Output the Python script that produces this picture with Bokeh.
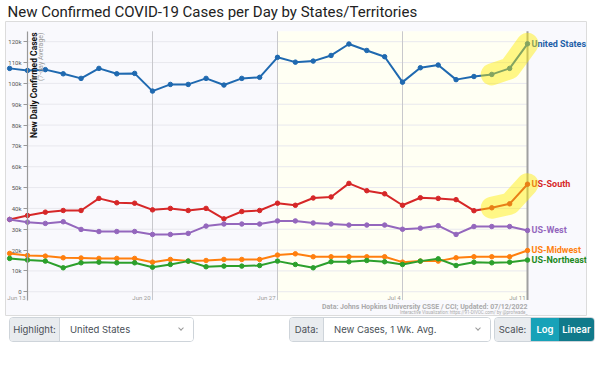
import math
import pandas as pd
from bokeh.plotting import figure
from bokeh.models import Range1d, FixedTicker, BoxAnnotation, Label, Div
from bokeh.layouts import column
from bokeh.embed import file_html
from bokeh.resources import INLINE
from bokeh.core.properties import value

# ---------------- data ----------------
dates = pd.date_range("2022-06-12", "2022-07-11", freq="D")

us = [107.2, 106.2, 106.6, 104.6, 102.4, 107.2, 104.6, 104.8, 96.3, 99.5,
      99.5, 102.4, 99.2, 102.4, 102.9, 112.5, 110.2, 110.7, 113.4, 118.9,
      115.8, 112.8, 100.6, 107.5, 108.8, 101.8, 103.3, 104.3, 107.2, 119.0]
south = [34.7, 36.6, 38.2, 39.0, 39.0, 44.8, 42.7, 42.5, 39.3, 40.0,
         39.0, 40.0, 35.0, 38.5, 39.0, 42.5, 41.5, 45.0, 45.5, 52.0,
         48.5, 47.0, 41.5, 45.1, 44.8, 44.2, 38.9, 40.3, 42.2, 51.6]
west = [34.7, 33.4, 32.8, 33.6, 29.9, 28.9, 28.9, 28.9, 27.5, 27.5,
        28.0, 31.5, 32.5, 32.5, 32.5, 34.0, 34.0, 33.0, 32.5, 32.0,
        32.0, 32.0, 30.0, 30.5, 31.7, 27.5, 31.3, 31.3, 31.3, 29.4]
midwest = [18.4, 17.4, 17.1, 16.3, 16.2, 16.0, 16.0, 16.0, 14.2, 15.5,
           14.7, 15.0, 15.5, 15.5, 15.5, 17.6, 18.2, 16.8, 16.8, 16.8,
           16.8, 16.8, 14.2, 14.7, 14.7, 16.3, 16.8, 16.8, 16.8, 19.8]
northeast = [16.0, 15.2, 14.7, 11.5, 13.9, 14.2, 13.9, 13.9, 11.8, 13.1,
             14.7, 12.0, 12.3, 12.3, 12.6, 14.7, 13.1, 11.5, 14.4, 14.4,
             15.0, 14.4, 13.1, 14.7, 15.8, 12.6, 14.2, 13.9, 14.2, 15.2]

series_names = ["United States", "US-South", "US-West", "US-Midwest", "US-Northeast"]
series_values = [us, south, west, midwest, northeast]
series_colors = ["#1f69b0", "#d62728", "#9467bd", "#ff7f0e", "#2ca02c"]
label_colors = ["#1f5fa8", "#d62728", "#9467bd", "#ff7f0e", "#1e8a1e"]
highlighted = ["United States", "US-South"]

y_ticks = [0, 10000, 20000, 30000, 40000, 50000, 60000, 70000, 80000, 90000, 100000, 110000, 120000]
y_tick_labels = ["0", "10k", "20k", "30k", "40k", "50k", "60k", "70k", "80k", "90k", "100k", "110k", "120k"]
x_ticks = pd.to_datetime(["2022-06-13", "2022-06-20", "2022-06-27", "2022-07-04", "2022-07-11"])
x_tick_labels = ["Jun 13", "Jun 20", "Jun 27", "Jul 4", "Jul 11"]

# ---------------- figure ----------------
day = pd.Timedelta(days=1)
x_start = x_ticks[0] - 1.232 * day
x_end = x_ticks[-1] + 3.304 * day

p = figure(frame_width=581, frame_height=294, x_axis_type="datetime",
           x_range=Range1d(x_start, x_end), y_range=Range1d(-11400, 129700),
           output_backend="svg", toolbar_location=None, x_axis_location=None,
           min_border_left=5, min_border_right=14, min_border_top=0, min_border_bottom=2,
           title="New Confirmed COVID-19 Cases per Day by States/Territories")
p.title.text_font = "Roboto"
p.title.text_font_size = "15px"
p.title.text_font_style = "normal"
p.title.text_color = "#222222"
p.title.standoff = 1
p.title.offset = 2

p.background_fill_color = "#f9f9fd"
p.border_fill_color = "white"
p.outline_line_color = "#dcdcdc"
p.xgrid.grid_line_color = None
p.ygrid.grid_line_color = None

# shaded recent period
p.add_layout(BoxAnnotation(left=x_ticks[2], right=x_ticks[-1], bottom=-4000, top=125000,
                           fill_color="#fffff3", fill_alpha=1.0, line_color=None, level="underlay"))

# horizontal grid lines
p.segment(x0=[x_ticks[0]] * len(y_ticks), x1=[x_ticks[-1]] * len(y_ticks), y0=y_ticks, y1=y_ticks,
          line_color="#e8e8ee", line_width=1)
# weekly vertical lines
p.segment(x0=list(x_ticks[1:-1]), x1=list(x_ticks[1:-1]), y0=[-4000] * 3, y1=[125000] * 3,
          line_color="#c8c8cc", line_width=1)
p.segment(x0=[x_ticks[-1]], x1=[x_ticks[-1]], y0=[-4000], y1=[125000],
          line_color="#a0a0a0", line_width=2)

# y axis placed at Jun 13
yax = p.yaxis[0]
yax.fixed_location = x_ticks[0].value / 1e6
yax.ticker = FixedTicker(ticks=y_ticks)
yax.major_label_overrides = {t: l for t, l in zip(y_ticks, y_tick_labels)}
yax.bounds = (-4000, 125000)
yax.axis_line_color = "#999999"
yax.axis_line_width = 1.2
yax.major_tick_line_color = "#999999"
yax.major_tick_out = 4
yax.major_tick_in = 0
yax.minor_tick_line_color = None
yax.major_label_text_font = "Roboto"
yax.major_label_text_font_size = "6px"
yax.major_label_text_color = "#555555"
yax.major_label_standoff = 2

# x tick labels
p.text(x=list(x_ticks), y=[0] * len(x_ticks), text=x_tick_labels, text_align="right",
       text_baseline="top", x_offset=-2, y_offset=2, text_font=value("Roboto"),
       text_font_size="6px", text_color="#999999")

# axis title
p.add_layout(Label(x=x_ticks[0].value / 1e6, y=283, y_units="screen", x_offset=6.5,
                   text="New Daily Confirmed Cases", angle=math.pi / 2, text_align="right",
                   text_baseline="middle", text_font="Roboto", text_font_size="8.5px",
                   text_font_style="bold", text_color="#111111"))
p.add_layout(Label(x=x_ticks[0].value / 1e6, y=283, y_units="screen", x_offset=13,
                   text="(7-day Average)", angle=math.pi / 2, text_align="right",
                   text_baseline="middle", text_font="Roboto", text_font_size="7px",
                   text_color="#999999"))

# series
for name, vals, col, lcol in zip(series_names, series_values, series_colors, label_colors):
    yv = [v * 1000 for v in vals]
    p.line(dates, yv, line_color=col, line_width=2)
    p.scatter(dates, yv, size=4.5, fill_color=col, line_color=col)
    p.text(x=[dates[-1]], y=[yv[-1]], text=[name], x_offset=4, text_baseline="middle",
           text_font=value("Roboto"), text_font_size="9px", text_font_style="bold",
           text_color=lcol)

# highlight of latest days
for name, vals in zip(series_names, series_values):
    if name in highlighted:
        yv = [v * 1000 for v in vals[-3:]]
        p.line(dates[-3:], yv, line_color="#ffee00", line_alpha=0.45, line_width=22,
               line_cap="round", line_join="round")

# source notes
p.add_layout(Label(x=x_ticks[-1].value / 1e6, y=9, y_units="screen",
                   text="Data: Johns Hopkins University CSSE / CCI; Updated: 07/12/2022",
                   text_align="right", text_baseline="middle", text_font="Roboto",
                   text_font_size="7px", text_font_style="bold", text_color="#aaaaaa"))
p.add_layout(Label(x=x_ticks[-1].value / 1e6, y=3.5, y_units="screen",
                   text="Interactive Visualization: https://91-DIVOC.com/ by @profwade_",
                   text_align="right", text_baseline="middle", text_font="Roboto",
                   text_font_size="4.5px", text_color="#aaaaaa"))

# ---------------- controls ----------------
chev = ('<span style="position:absolute;right:10px;top:8px;width:4px;height:4px;'
        'border-right:1px solid #999;border-bottom:1px solid #999;transform:rotate(45deg);"></span>')
grp = ('position:absolute;top:0;height:25px;border:1px solid #ced4da;border-radius:4px;'
       'display:flex;overflow:hidden;box-sizing:border-box;')
lab = ('background:#e9ecef;border-right:1px solid #ced4da;display:flex;align-items:center;'
       'justify-content:center;')
sel = 'flex:1;background:#fff;display:flex;align-items:center;padding-left:10px;position:relative;'
html = f'''
<div style="position:relative;width:600px;height:26px;font-family:Inter,'Noto Sans',sans-serif;font-size:9.5px;color:#495057;">
 <div style="{grp}left:9px;width:185px;">
   <div style="{lab}width:50px;">Highlight:</div>
   <div style="{sel}">United States{chev}</div>
 </div>
 <div style="{grp}left:289px;width:202px;">
   <div style="{lab}width:34px;">Data:</div>
   <div style="{sel}">New Cases, 1 Wk. Avg.{chev}</div>
 </div>
 <div style="{grp}left:494px;width:101px;">
   <div style="{lab}width:36px;">Scale:</div>
   <div style="width:28px;background:#17a2b8;color:#fff;font-weight:600;display:flex;align-items:center;justify-content:center;">Log</div>
   <div style="flex:1;background:#117a8b;color:#fff;font-weight:600;display:flex;align-items:center;justify-content:center;">Linear</div>
 </div>
</div>
'''
controls = Div(text=html, width=600, height=26, margin=(0, 0, 0, 0))

layout = column(p, controls, spacing=0)
open("out.html", "w").write(file_html(layout, INLINE))
